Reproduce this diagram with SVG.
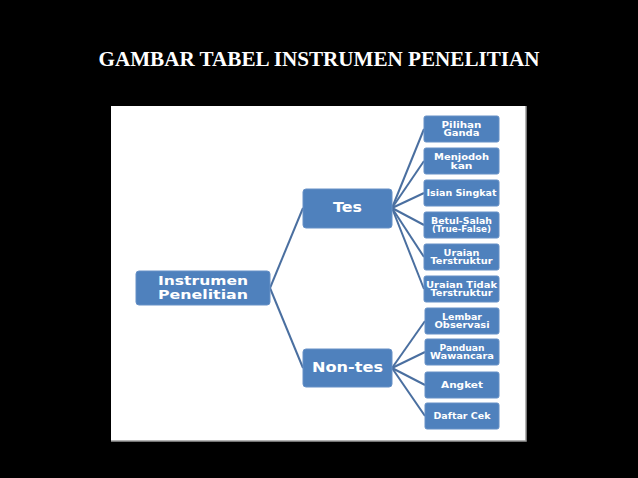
<svg xmlns="http://www.w3.org/2000/svg" width="638" height="478" viewBox="0 0 638 478">
<style>
.box{fill:#4F81BD;stroke:#6690c6;stroke-width:1}
.t{fill:#fff;font-family:"DejaVu Sans",sans-serif;font-weight:bold;text-anchor:middle}
.s{font-size:9px}
.c line{stroke:#4A6FA0;stroke-width:2}
</style>
<rect x="0" y="0" width="638" height="478" fill="#000"/>
<text x="319" y="66" fill="#fff" font-family="Liberation Serif,serif" font-weight="bold" font-size="20" text-anchor="middle" textLength="441" lengthAdjust="spacingAndGlyphs">GAMBAR TABEL INSTRUMEN PENELITIAN</text>
<rect x="111" y="106" width="415" height="335" fill="#fff"/>
<path d="M526 106 V441 H111" fill="none" stroke="#9a9a9a" stroke-width="1.5"/>
<g class="c" id="connectors">
<line x1="270" y1="288" x2="303" y2="208"/>
<line x1="270" y1="288" x2="303" y2="368"/>
<line x1="392" y1="208" x2="424" y2="129"/>
<line x1="392" y1="208" x2="424" y2="161"/>
<line x1="392" y1="208" x2="424" y2="193"/>
<line x1="392" y1="208" x2="424" y2="225"/>
<line x1="392" y1="208" x2="424" y2="257"/>
<line x1="392" y1="208" x2="424" y2="289"/>
<line x1="392" y1="368" x2="425" y2="321"/>
<line x1="392" y1="368" x2="425" y2="352"/>
<line x1="392" y1="368" x2="425" y2="385"/>
<line x1="392" y1="368" x2="425" y2="416"/>
</g>
<g id="instrumen"><rect class="box" x="136" y="271" width="134" height="34" rx="3"/><text class="t" x="203" y="285" font-size="12" textLength="90" lengthAdjust="spacingAndGlyphs">Instrumen</text><text class="t" x="203" y="299" font-size="12" textLength="90" lengthAdjust="spacingAndGlyphs">Penelitian</text></g>
<g id="tes"><rect class="box" x="303" y="189" width="89" height="39" rx="3"/><text class="t" x="347.5" y="212" font-size="14.5" textLength="29" lengthAdjust="spacingAndGlyphs">Tes</text></g>
<g id="nontes"><rect class="box" x="303" y="349" width="89" height="38" rx="3"/><text class="t" x="347.5" y="372" font-size="14.5" textLength="71" lengthAdjust="spacingAndGlyphs">Non-tes</text></g>
<g id="pilihan"><rect class="box" x="424" y="116" width="75" height="26" rx="2"/><text class="t s" x="461.5" y="127.5" textLength="40" lengthAdjust="spacingAndGlyphs">Pilihan</text><text class="t s" x="461.5" y="136" textLength="36" lengthAdjust="spacingAndGlyphs">Ganda</text></g>
<g id="menjodohkan"><rect class="box" x="424" y="148" width="75" height="26" rx="2"/><text class="t s" x="461.5" y="159.5" textLength="55" lengthAdjust="spacingAndGlyphs">Menjodoh</text><text class="t s" x="461.5" y="168.5" textLength="22" lengthAdjust="spacingAndGlyphs">kan</text></g>
<g id="isian"><rect class="box" x="424" y="180" width="75" height="26" rx="2"/><text class="t s" x="461.5" y="196" textLength="70" lengthAdjust="spacingAndGlyphs">Isian Singkat</text></g>
<g id="betul"><rect class="box" x="424" y="212" width="75" height="26" rx="2"/><text class="t s" x="461.5" y="223.5" textLength="61" lengthAdjust="spacingAndGlyphs">Betul-Salah</text><text class="t s" x="461.5" y="232" textLength="59" lengthAdjust="spacingAndGlyphs">(True-False)</text></g>
<g id="uraian"><rect class="box" x="424" y="244" width="75" height="26" rx="2"/><text class="t s" x="461.5" y="255.5" textLength="36" lengthAdjust="spacingAndGlyphs">Uraian</text><text class="t s" x="461.5" y="264" textLength="62" lengthAdjust="spacingAndGlyphs">Terstruktur</text></g>
<g id="uraiantidak"><rect class="box" x="424" y="276" width="75" height="26" rx="2"/><text class="t s" x="461.5" y="287.5" textLength="71" lengthAdjust="spacingAndGlyphs">Uraian Tidak</text><text class="t s" x="461.5" y="296" textLength="62" lengthAdjust="spacingAndGlyphs">Terstruktur</text></g>
<g id="lembar"><rect class="box" x="425" y="308" width="74" height="26" rx="2"/><text class="t s" x="462" y="319.5" textLength="40" lengthAdjust="spacingAndGlyphs">Lembar</text><text class="t s" x="462" y="328" textLength="55" lengthAdjust="spacingAndGlyphs">Observasi</text></g>
<g id="panduan"><rect class="box" x="425" y="339" width="74" height="26" rx="2"/><text class="t s" x="462" y="350.5" textLength="45" lengthAdjust="spacingAndGlyphs">Panduan</text><text class="t s" x="462" y="359" textLength="64" lengthAdjust="spacingAndGlyphs">Wawancara</text></g>
<g id="angket"><rect class="box" x="425" y="372" width="74" height="26" rx="2"/><text class="t s" x="462" y="388" textLength="42" lengthAdjust="spacingAndGlyphs">Angket</text></g>
<g id="daftar"><rect class="box" x="425" y="403" width="74" height="26" rx="2"/><text class="t s" x="462" y="419" textLength="57" lengthAdjust="spacingAndGlyphs">Daftar Cek</text></g>
</svg>
